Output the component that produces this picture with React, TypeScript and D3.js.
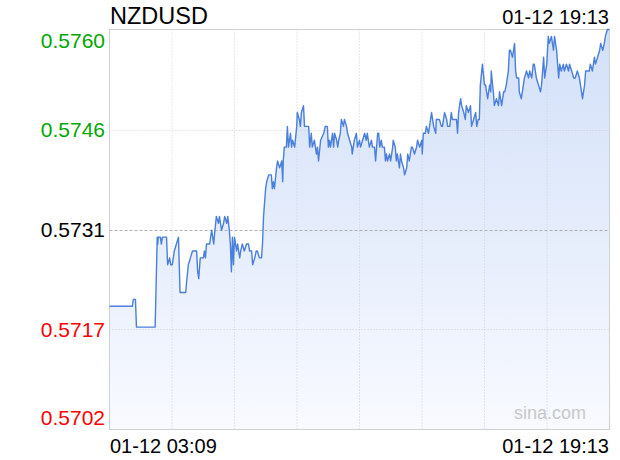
import React from "react";
import * as d3 from "d3";

const symbol = "NZDUSD";
const startLabel = "01-12 03:09";
const endLabel = "01-12 19:13";
const yTickLabels = ["0.5760", "0.5746", "0.5731", "0.5717", "0.5702"];
const yTop = 0.576;
const prevClose = 0.57311;
const totalMinutes = 964;

// minutes after 01-12 03:09
const minutes = [
  0, 44, 46, 50, 52, 88, 92, 93, 94, 98, 100, 102, 110, 112, 116, 118, 121, 125, 129, 133,
  136, 147, 148, 152, 156, 160, 168, 170, 172, 174, 175, 181, 183, 185, 187, 193, 197, 201, 202, 206,
  210, 212, 216, 220, 222, 226, 228, 231, 233, 235, 237, 239, 241, 245, 247, 251, 253, 256, 260, 264,
  268, 270, 274, 276, 280, 283, 285, 289, 293, 295, 297, 301, 303, 307, 312, 314, 316, 318, 322, 324,
  328, 332, 334, 335, 337, 341, 343, 345, 349, 351, 353, 357, 361, 362, 366, 368, 370, 374, 376, 380,
  384, 386, 389, 391, 395, 399, 401, 403, 407, 413, 416, 420, 422, 424, 426, 430, 432, 434, 438, 440,
  442, 445, 447, 451, 453, 457, 459, 463, 467, 468, 472, 476, 478, 482, 484, 488, 492, 495, 497, 501,
  505, 507, 511, 513, 517, 519, 521, 524, 526, 530, 532, 534, 536, 540, 542, 546, 547, 551, 553, 555,
  559, 561, 563, 567, 569, 573, 575, 578, 582, 584, 588, 592, 594, 598, 602, 603, 605, 609, 611, 615,
  619, 621, 625, 629, 630, 636, 640, 642, 646, 650, 652, 656, 659, 661, 665, 669, 671, 673, 677, 679,
  683, 686, 688, 692, 696, 698, 702, 706, 708, 711, 713, 715, 719, 723, 725, 729, 733, 735, 736, 740,
  742, 746, 750, 752, 756, 760, 762, 765, 769, 771, 773, 777, 781, 783, 785, 789, 790, 794, 798, 800,
  804, 808, 810, 814, 817, 819, 823, 827, 831, 833, 837, 839, 843, 846, 848, 852, 856, 858, 862, 866,
  868, 871, 875, 877, 881, 885, 887, 891, 895, 898, 902, 906, 908, 912, 916, 918, 922, 925, 927, 931,
  935, 937, 941, 945, 947, 951, 954, 956, 960, 964,
];

const prices = [
  0.5720, 0.5720, 0.5721, 0.5721, 0.5717, 0.5717, 0.5730, 0.5729, 0.5730, 0.5730, 0.5729, 0.5730, 0.5730, 0.5726, 0.5727, 0.5726, 0.5726, 0.5728, 0.5729, 0.5730,
  0.5722, 0.5722, 0.5723, 0.5726, 0.5727, 0.5728, 0.5728, 0.5725, 0.5724, 0.5726, 0.5727, 0.5727, 0.5728, 0.5727, 0.5729, 0.5729, 0.5731, 0.5729, 0.5730, 0.5733,
  0.5732, 0.5733, 0.5731, 0.5732, 0.5733, 0.5732, 0.5733, 0.5731, 0.5729, 0.5725, 0.5730, 0.5726, 0.5730, 0.5728, 0.5729, 0.5727, 0.5728, 0.5729, 0.5728, 0.5729,
  0.5729, 0.5728, 0.5728, 0.5726, 0.5727, 0.5728, 0.5728, 0.5727, 0.5727, 0.5729, 0.5733, 0.5737, 0.5738, 0.5739, 0.5739, 0.5737, 0.5738, 0.5737, 0.5740, 0.5741,
  0.5740, 0.5741, 0.5738, 0.5741, 0.5743, 0.5743, 0.5746, 0.5743, 0.5745, 0.5743, 0.5744, 0.5743, 0.5746, 0.5748, 0.5747, 0.5746, 0.5748, 0.5749, 0.5746, 0.5746,
  0.5746, 0.5743, 0.5745, 0.5743, 0.5744, 0.5742, 0.5743, 0.5741, 0.5744, 0.5745, 0.5746, 0.5746, 0.5743, 0.5744, 0.5743, 0.5745, 0.5743, 0.5745, 0.5744, 0.5743,
  0.5744, 0.5745, 0.5747, 0.5746, 0.5747, 0.5746, 0.5745, 0.5744, 0.5743, 0.5742, 0.5744, 0.5745, 0.5743, 0.5744, 0.5743, 0.5744, 0.5745, 0.5744, 0.5745, 0.5743,
  0.5744, 0.5743, 0.5743, 0.5741, 0.5745, 0.5745, 0.5743, 0.5744, 0.5743, 0.5743, 0.5741, 0.5742, 0.5741, 0.5742, 0.5741, 0.5743, 0.5744, 0.5743, 0.5741, 0.5742,
  0.5740, 0.5742, 0.5741, 0.5740, 0.5739, 0.5740, 0.5742, 0.5741, 0.5743, 0.5743, 0.5742, 0.5743, 0.5744, 0.5743, 0.5744, 0.5742, 0.5745, 0.5745, 0.5746, 0.5745,
  0.5747, 0.5748, 0.5746, 0.5745, 0.5747, 0.5747, 0.5746, 0.5746, 0.5748, 0.5747, 0.5746, 0.5746, 0.5748, 0.5747, 0.5747, 0.5747, 0.5745, 0.5748, 0.5750, 0.5749,
  0.5748, 0.5747, 0.5749, 0.5748, 0.5749, 0.5746, 0.5747, 0.5748, 0.5746, 0.5747, 0.5747, 0.5752, 0.5755, 0.5752, 0.5752, 0.5750, 0.5752, 0.5751, 0.5754, 0.5751,
  0.5749, 0.5750, 0.5749, 0.5751, 0.5749, 0.5751, 0.5751, 0.5752, 0.5754, 0.5757, 0.5757, 0.5756, 0.5758, 0.5754, 0.5753, 0.5753, 0.5751, 0.5750, 0.5752, 0.5753,
  0.5754, 0.5753, 0.5754, 0.5753, 0.5755, 0.5755, 0.5753, 0.5752, 0.5751, 0.5752, 0.5756, 0.5753, 0.5755, 0.5759, 0.5758, 0.5759, 0.5757, 0.5759, 0.5757, 0.5753,
  0.5755, 0.5754, 0.5755, 0.5754, 0.5755, 0.5754, 0.5755, 0.5754, 0.5753, 0.5753, 0.5754, 0.5753, 0.5752, 0.5750, 0.5752, 0.5754, 0.5754, 0.5754, 0.5755, 0.5754,
  0.5756, 0.5755, 0.5756, 0.5757, 0.5758, 0.5757, 0.5758, 0.5759, 0.5760, 0.5760,
];

const W = 620;
const H = 460;
const left = 109.5;
const right = 609.5;
const top = 29.5;
const bottom = 429.5;
const font = "'Liberation Sans', Arial, sans-serif";

export default function App() {
  const x = d3.scaleLinear().domain([0, totalMinutes]).range([left, right]);
  const yBottom = 2 * prevClose - yTop;
  const y = d3.scaleLinear().domain([yBottom, yTop]).range([bottom, top]);

  const data = minutes.map((m, i) => ({ m, p: prices[i] }));
  const line = d3
    .line<{ m: number; p: number }>()
    .x((d) => x(d.m))
    .y((d) => y(d.p));
  const area = d3
    .area<{ m: number; p: number }>()
    .x((d) => x(d.m))
    .y0(bottom)
    .y1((d) => y(d.p));

  const tickVals = d3.range(5).map((i) => yTop - (i * (yTop - yBottom)) / 4);
  const tickColors = ["#00a800", "#00a800", "#000000", "#ff0000", "#ff0000"];
  const vLines = d3.range(1, 8).map((i) => left + (i * (right - left)) / 8);

  return (
    <svg
      width={W}
      height={H}
      style={{ position: "absolute", left: 0, top: 0, background: "#fff" }}
      fontFamily={font}
    >
      <defs>
        <linearGradient id="fillGrad" gradientUnits="userSpaceOnUse" x1="0" y1={top} x2="0" y2={bottom}>
          <stop offset="0%" stopColor="#d2e0f8" />
          <stop offset="100%" stopColor="#f8faff" />
        </linearGradient>
      </defs>
      <path d={area(data) || ""} fill="url(#fillGrad)" />
      {vLines.map((vx, i) => (
        <line key={"v" + i} x1={vx} x2={vx} y1={top} y2={bottom} stroke="#cfcfcf" strokeWidth={1} strokeDasharray="1,2" />
      ))}
      {tickVals.slice(1, 4).map((v, i) => (
        <line
          key={"h" + i}
          x1={left}
          x2={right}
          y1={Math.round(y(v)) + 0.5}
          y2={Math.round(y(v)) + 0.5}
          stroke={i === 1 ? "#b0b0b0" : "#cfcfcf"}
          strokeWidth={1}
          strokeDasharray={i === 1 ? "3,2" : "1,2"}
        />
      ))}
      <rect x={left} y={top} width={right - left} height={bottom - top} fill="none" stroke="#d0d0d0" strokeWidth={1} />
      <path d={line(data) || ""} fill="none" stroke="#4a7fdb" strokeWidth={1.4} strokeLinejoin="round" />
      {tickVals.map((v, i) => {
        const yy = y(v);
        const dy = i === 0 ? 18 : i === 4 ? -5 : 7;
        return (
          <text key={"t" + i} x={105} y={yy + dy} textAnchor="end" fontSize={21} fill={tickColors[i]}>
            {yTickLabels[i]}
          </text>
        );
      })}
      <text x={110} y={24} fontSize={23.5} fill="#000">
        {symbol}
      </text>
      <text x={609} y={24} textAnchor="end" fontSize={20} fill="#000">
        {endLabel}
      </text>
      <text x={110} y={453} fontSize={20} fill="#000">
        {startLabel}
      </text>
      <text x={609} y={453} textAnchor="end" fontSize={20} fill="#000">
        {endLabel}
      </text>
      <text x={586} y={419} textAnchor="end" fontSize={18} fill="#c8c8c8">
        sina.com
      </text>
    </svg>
  );
}
